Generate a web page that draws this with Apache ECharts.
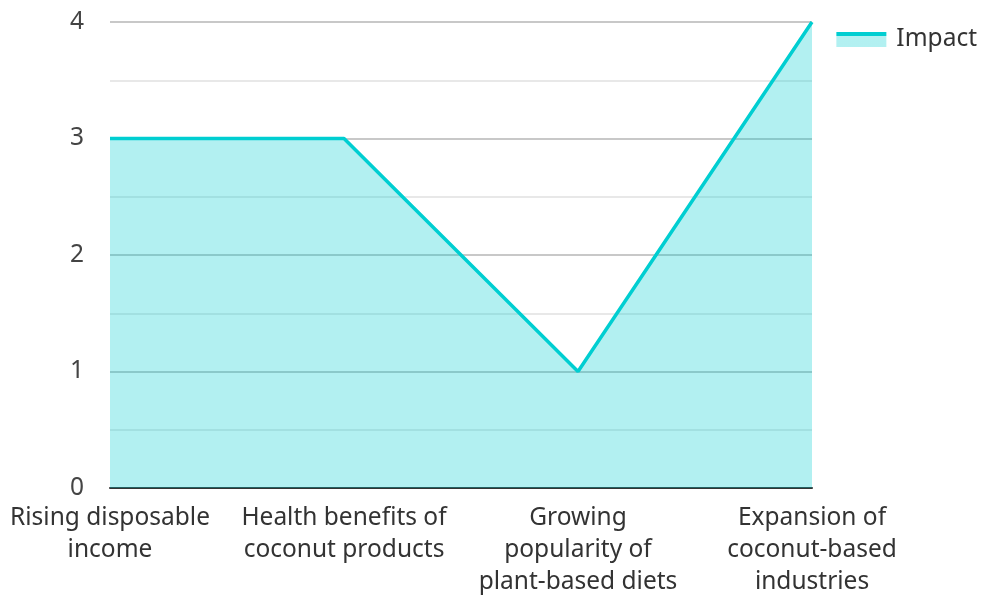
<html>
<head>
<meta charset="utf-8">
<script src="https://cdn.jsdelivr.net/npm/echarts@6/dist/echarts.min.js"></script>
</head>
<body>
<style>
    html, body, #main {
        width: 100%;
        height: 100%;
        margin: 0;
    }
</style>
<div id="main"></div>
<script>

let categories = [
    'Rising disposable\nincome',
    'Health benefits of\ncoconut products',
    'Growing\npopularity of\nplant-based diets',
    'Expansion of\ncoconut-based\nindustries'
];
let impact = [3, 3, 1, 4];

var myChart = echarts.init(document.getElementById('main'));

// legend icon: line on top, light area under it
var legendFill = new echarts.graphic.LinearGradient(0, 0, 0, 1, [
    { offset: 0, color: '#00CED1' },
    { offset: 0.24, color: '#00CED1' },
    { offset: 0.24, color: 'rgba(0,206,209,0.3)' },
    { offset: 1, color: 'rgba(0,206,209,0.3)' }
]);

option = {
    textStyle: { fontFamily: 'Noto Sans' },
    legend: {
        right: 0,
        top: 22,
        icon: 'rect',
        itemWidth: 50,
        itemHeight: 15,
        itemGap: 10,
        itemStyle: { color: legendFill },
        textStyle: { fontSize: 24.5, color: '#333', padding: [0, 0, 6, 5] },
        data: ['Impact']
    },
    grid: {
        left: 110,
        right: 170,
        top: 22,
        bottom: 107,
        outerBoundsMode: 'none'
    },
    xAxis: {
        type: 'category',
        boundaryGap: false,
        data: categories,
        axisLine: { lineStyle: { color: '#333', width: 2 } },
        axisTick: { show: false },
        axisLabel: {
            interval: 0,
            fontSize: 24.5,
            lineHeight: 32,
            color: '#333',
            margin: 14
        }
    },
    yAxis: {
        type: 'value',
        min: 0,
        max: 4,
        interval: 1,
        axisLine: { show: false },
        axisTick: { show: false },
        axisLabel: { fontSize: 24.5, color: '#444', margin: 26 },
        splitLine: { lineStyle: { color: '#c8c8c8', width: 2 } },
        minorTick: { show: false, splitNumber: 2 },
        minorSplitLine: { show: true, lineStyle: { color: '#e8e8e8', width: 2 } }
    },
    series: [
        {
            name: 'Impact',
            type: 'line',
            data: impact,
            symbol: 'none',
            lineStyle: { color: '#00CED1', width: 3.5 },
            itemStyle: { color: '#00CED1' },
            areaStyle: { color: '#00CED1', opacity: 0.3 }
        }
    ]
};
myChart.setOption(option);

</script>
</body>
</html>
